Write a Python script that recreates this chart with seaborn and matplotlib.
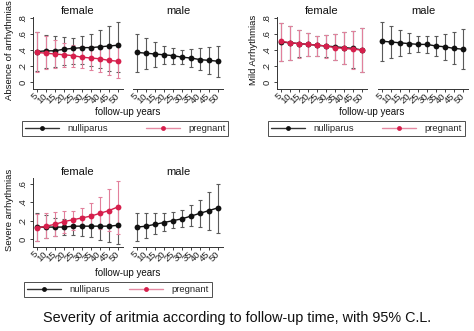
import numpy as np
import pandas as pd
import matplotlib
matplotlib.use("Agg")
import matplotlib.pyplot as plt
import seaborn as sns
from matplotlib.lines import Line2D

sns.set_theme(style="white")
plt.rcParams['font.family'] = ['Liberation Sans', 'DejaVu Sans']

years = [5, 10, 15, 20, 25, 30, 35, 40, 45, 50]

# Absence of arrhythmias
abs_f_null = [0.38, 0.39, 0.39, 0.41, 0.42, 0.43, 0.43, 0.44, 0.45, 0.46]
abs_f_null_lo = [0.14, 0.17, 0.19, 0.21, 0.22, 0.22, 0.20, 0.17, 0.14, 0.12]
abs_f_null_hi = [0.62, 0.59, 0.57, 0.56, 0.55, 0.57, 0.60, 0.65, 0.70, 0.75]
abs_f_preg = [0.37, 0.36, 0.35, 0.34, 0.33, 0.31, 0.30, 0.29, 0.27, 0.26]
abs_f_preg_lo = [0.13, 0.16, 0.17, 0.19, 0.19, 0.17, 0.15, 0.12, 0.09, 0.05]
abs_f_preg_hi = [0.62, 0.57, 0.53, 0.49, 0.46, 0.45, 0.45, 0.45, 0.46, 0.47]
abs_m_null = [0.37, 0.36, 0.35, 0.34, 0.33, 0.31, 0.30, 0.28, 0.27, 0.26]
abs_m_null_lo = [0.13, 0.16, 0.19, 0.22, 0.22, 0.22, 0.19, 0.15, 0.10, 0.06]
abs_m_null_hi = [0.60, 0.55, 0.50, 0.45, 0.42, 0.40, 0.41, 0.42, 0.44, 0.45]

# Mild arrhythmias
mild_f_null = [0.50, 0.49, 0.48, 0.47, 0.46, 0.45, 0.44, 0.43, 0.42, 0.40]
mild_f_null_lo = [0.26, 0.28, 0.31, 0.33, 0.33, 0.31, 0.28, 0.23, 0.17, 0.12]
mild_f_null_hi = [0.74, 0.70, 0.65, 0.61, 0.58, 0.59, 0.60, 0.62, 0.64, 0.67]
mild_f_preg = [0.51, 0.49, 0.48, 0.47, 0.46, 0.45, 0.43, 0.42, 0.41, 0.40]
mild_f_preg_lo = [0.26, 0.28, 0.30, 0.32, 0.32, 0.30, 0.27, 0.22, 0.16, 0.12]
mild_f_preg_hi = [0.74, 0.70, 0.65, 0.61, 0.58, 0.59, 0.60, 0.62, 0.64, 0.67]
mild_m_null = [0.51, 0.50, 0.49, 0.48, 0.47, 0.47, 0.45, 0.44, 0.42, 0.41]
mild_m_null_lo = [0.26, 0.30, 0.33, 0.36, 0.37, 0.36, 0.33, 0.28, 0.22, 0.16]
mild_m_null_hi = [0.75, 0.70, 0.65, 0.61, 0.58, 0.57, 0.58, 0.60, 0.63, 0.66]

# Severe arrhythmias
sev_f_null = [0.13, 0.13, 0.13, 0.13, 0.14, 0.14, 0.14, 0.14, 0.14, 0.15]
sev_f_null_lo = [-0.02, 0.01, 0.03, 0.04, 0.04, 0.03, 0.02, -0.01, -0.03, -0.05]
sev_f_null_hi = [0.28, 0.26, 0.23, 0.22, 0.23, 0.25, 0.27, 0.29, 0.32, 0.36]
sev_f_preg = [0.12, 0.14, 0.16, 0.19, 0.21, 0.23, 0.25, 0.28, 0.31, 0.35]
sev_f_preg_lo = [-0.02, 0.01, 0.03, 0.07, 0.10, 0.13, 0.12, 0.11, 0.09, 0.06]
sev_f_preg_hi = [0.27, 0.28, 0.29, 0.30, 0.31, 0.34, 0.39, 0.46, 0.54, 0.63]
sev_m_null = [0.13, 0.14, 0.16, 0.18, 0.20, 0.22, 0.25, 0.28, 0.31, 0.34]
sev_m_null_lo = [-0.02, 0.01, 0.05, 0.09, 0.12, 0.13, 0.14, 0.13, 0.10, 0.07]
sev_m_null_hi = [0.28, 0.28, 0.28, 0.28, 0.29, 0.32, 0.37, 0.43, 0.51, 0.60]

groups = ["nulliparus", "pregnant"]
panel_titles = ["female", "male"]
ylabels = ["Absence of arrhythmias", "Mild Arrhythmias", "Severe arrhythmias"]
caption = "Severity of aritmia according to follow-up time, with 95% C.L."

BLACK = "#111111"
RED = "#d61f4c"
GRAY_CI = "#5a5a5a"
PINK_CI = "#e2809c"
PINK_LINE = "#e58aa3"

W, H = 474, 331
fig = plt.figure(figsize=(W / 100, H / 100), dpi=100)


def add_ax(x0, ytop, w, h):
    return fig.add_axes([x0 / W, 1 - (ytop + h) / H, w / W, h / H])


def draw_series(ax, vals, lo, hi, grp, color, ci_color):
    df = pd.DataFrame({"year": years, "value": vals, "group": grp})
    vals = np.array(vals)
    ax.errorbar(years, vals, yerr=[vals - np.array(lo), np.array(hi) - vals],
                fmt="none", ecolor=ci_color, elinewidth=0.8, capsize=1.6,
                capthick=0.8, zorder=2)
    sns.lineplot(data=df, x="year", y="value", color=color, marker="o",
                 markersize=4.2, markeredgewidth=0, linewidth=1.0, ax=ax,
                 legend=False, zorder=3)


def style_ax(ax, ylim, yticks, yticklabels, left):
    ax.set_xlim(2.8, 52.8)
    ax.set_ylim(*ylim)
    ax.set_xticks(years)
    ax.set_xticklabels([str(y) for y in years], rotation=45, fontsize=6.8,
                       ha="right", va="center", rotation_mode="anchor")
    ax.tick_params(axis="x", length=2.5, width=0.6, pad=1.5, direction="out",
                   bottom=True, colors="#222222")
    ax.set_xlabel("")
    ax.set_ylabel("")
    for s in ["top", "right"]:
        ax.spines[s].set_visible(False)
    ax.spines["bottom"].set_color("#333333")
    ax.spines["bottom"].set_linewidth(0.7)
    if left:
        ax.spines["left"].set_color("#333333")
        ax.spines["left"].set_linewidth(0.7)
        ax.set_yticks(yticks)
        ax.set_yticklabels(yticklabels, rotation=90, fontsize=6.8, va="center")
        ax.tick_params(axis="y", length=2.5, width=0.6, pad=1.5, left=True,
                       direction="out", colors="#222222")
    else:
        ax.spines["left"].set_visible(False)
        ax.set_yticks([])
    ax.patch.set_alpha(0)


panels = [
    dict(x=33, ytop=17, h=72, ylim=(-0.0875, 0.8125), yt=[0, .2, .4, .6, .8],
         ytl=["0", ".2", ".4", ".6", ".8"], ylabel=ylabels[0],
         female=[(abs_f_null, abs_f_null_lo, abs_f_null_hi),
                 (abs_f_preg, abs_f_preg_lo, abs_f_preg_hi)],
         male=(abs_m_null, abs_m_null_lo, abs_m_null_hi),
         ylab_x=10, xlab_y=112, leg=(22, 121, 209, 17), hl=3.6, cs=4.0),
    dict(x=277, ytop=17, h=72, ylim=(-0.0875, 0.8125), yt=[0, .2, .4, .6, .8],
         ytl=["0", ".2", ".4", ".6", ".8"], ylabel=ylabels[1],
         female=[(mild_f_null, mild_f_null_lo, mild_f_null_hi),
                 (mild_f_preg, mild_f_preg_lo, mild_f_preg_hi)],
         male=(mild_m_null, mild_m_null_lo, mild_m_null_hi),
         ylab_x=254, xlab_y=112, leg=(268, 121, 196, 17), hl=3.6, cs=3.0),
    dict(x=33, ytop=178, h=69, ylim=(-0.087, 0.665), yt=[0, .2, .4, .6],
         ytl=["0", ".2", ".4", ".6"], ylabel=ylabels[2],
         female=[(sev_f_null, sev_f_null_lo, sev_f_null_hi),
                 (sev_f_preg, sev_f_preg_lo, sev_f_preg_hi)],
         male=(sev_m_null, sev_m_null_lo, sev_m_null_hi),
         ylab_x=10, xlab_y=273, leg=(24, 282, 190, 16), hl=3.6, cs=2.0),
]

for p in panels:
    axf = add_ax(p["x"], p["ytop"], 90, p["h"])
    axm = add_ax(p["x"] + 101 if p["x"] > 200 else p["x"] + 100, p["ytop"], 90, p["h"])
    (fn, fnl, fnh), (fp, fpl, fph) = p["female"]
    draw_series(axf, fn, fnl, fnh, groups[0], BLACK, GRAY_CI)
    draw_series(axf, fp, fpl, fph, groups[1], RED, PINK_CI)
    mn, mnl, mnh = p["male"]
    draw_series(axm, mn, mnl, mnh, groups[0], BLACK, GRAY_CI)
    style_ax(axf, p["ylim"], p["yt"], p["ytl"], True)
    style_ax(axm, p["ylim"], p["yt"], p["ytl"], False)
    axf.set_title(panel_titles[0], fontsize=8, pad=2.5, color="#111111")
    axm.set_title(panel_titles[1], fontsize=8, pad=2.5, color="#111111")
    # y label
    yc = p["ytop"] + p["h"] / 2 - 3
    fig.text(p["ylab_x"] / W, 1 - yc / H, p["ylabel"], rotation=90,
             fontsize=6.8, ha="center", va="center", color="#111111")
    # x label
    xc = (p["x"] + p["x"] + 190) / 2
    fig.text(xc / W, 1 - p["xlab_y"] / H, "follow-up years", fontsize=7,
             ha="center", va="center", color="#111111")
    # legend
    lx, ly, lw, lh = p["leg"]
    handles = [
        Line2D([], [], color="#333333", lw=1.0, marker="o", markersize=3.5,
               markerfacecolor=BLACK, markeredgewidth=0),
        Line2D([], [], color=PINK_LINE, lw=1.0, marker="o", markersize=3.5,
               markerfacecolor=RED, markeredgewidth=0),
    ]
    leg = fig.legend(handles, groups, loc="upper left",
                     bbox_to_anchor=(lx / W, 1 - ly / H),
                     ncol=2, fontsize=6.8, frameon=True,
                     fancybox=False, edgecolor="#222222", handlelength=p["hl"],
                     handletextpad=0.9, borderpad=0.3, columnspacing=p["cs"],
                     borderaxespad=0)
    leg.get_frame().set_linewidth(0.7)

fig.text(237 / W, 1 - 318 / H, caption, fontsize=10.4, ha="center",
         va="center", color="#111111")

fig.savefig("out.png", dpi=100, facecolor="white")
